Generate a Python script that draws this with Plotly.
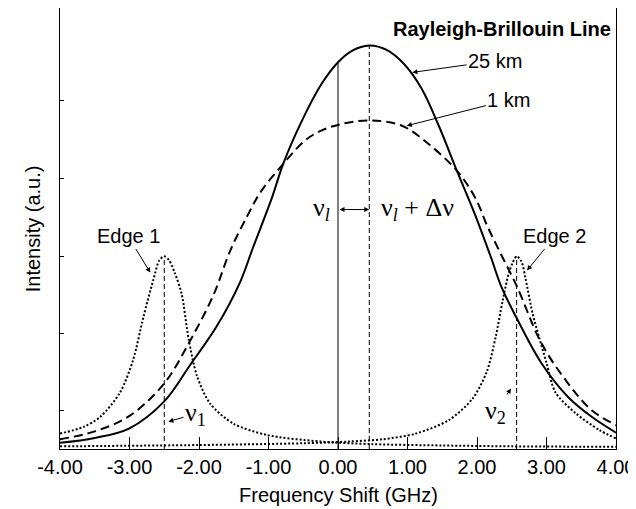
import plotly.graph_objects as go

# Frequency shift (GHz) vs intensity (a.u.)
freq_25km = [-4.00, -3.50, -3.00, -2.50, -2.13, -1.75, -1.41, -1.22, -0.95, -0.79, -0.52, -0.24,
             0.00, 0.20, 0.45, 0.70, 0.95, 1.20, 1.45, 1.71, 1.97, 2.20, 2.35, 2.57, 2.93, 3.31, 3.65, 4.00]
int_25km = [0.014, 0.025, 0.047, 0.108, 0.190, 0.277, 0.378, 0.458, 0.570, 0.646, 0.744, 0.827,
            0.877, 0.903, 0.915, 0.905, 0.873, 0.818, 0.733, 0.631, 0.532, 0.435, 0.368, 0.297, 0.194, 0.118, 0.073, 0.037]

freq_1km = [-4.00, -3.50, -3.00, -2.50, -2.13, -1.79, -1.55, -1.30, -1.10, -0.79, -0.48, -0.24,
            0.05, 0.45, 0.92, 1.30, 1.71, 1.97, 2.15, 2.35, 2.57, 2.93, 3.31, 3.65, 4.00]
int_1km = [0.022, 0.040, 0.075, 0.149, 0.245, 0.350, 0.450, 0.530, 0.586, 0.646, 0.699, 0.722,
           0.737, 0.745, 0.733, 0.692, 0.631, 0.571, 0.505, 0.440, 0.370, 0.239, 0.149, 0.088, 0.054]

freq_edge1 = [-4.00, -3.66, -3.42, -3.14, -2.95, -2.80, -2.66, -2.57, -2.50, -2.43, -2.35, -2.25,
              -2.15, -2.03, -1.84, -1.51, -1.03, -0.26, 0.50, 1.50, 2.50, 4.00]
int_edge1 = [0.035, 0.050, 0.073, 0.127, 0.201, 0.299, 0.382, 0.428, 0.437, 0.428, 0.400, 0.352,
             0.250, 0.166, 0.103, 0.058, 0.032, 0.017, 0.011, 0.008, 0.006, 0.005]

freq_edge2 = [-4.00, -2.00, -0.50, 0.16, 0.64, 1.12, 1.60, 1.94, 2.14, 2.27, 2.37, 2.47,
              2.57, 2.64, 2.70, 2.80, 2.90, 3.00, 3.13, 3.42, 3.76, 4.00]
int_edge2 = [0.006, 0.009, 0.013, 0.017, 0.022, 0.035, 0.066, 0.115, 0.175, 0.255, 0.337, 0.405,
             0.437, 0.425, 0.385, 0.307, 0.250, 0.195, 0.128, 0.081, 0.043, 0.024]

# marker frequencies and the heights the vertical lines reach
nu_l = 0.0
nu_l_top = 0.877
nu_shift = 0.45
nu_shift_top = 0.915
nu_1 = -2.50
nu_2 = 2.57
edge_top = 0.437

x_ticks = [-4, -3, -2, -1, 0, 1, 2, 3, 4]
x_labels = ['-4.00', '-3.00', '-2.00', '-1.00', '0.00', '1.00', '2.00', '3.00', '4.00']
y_ticks = [0.088, 0.262, 0.437, 0.613, 0.79]

fig = go.Figure()

# vertical marker lines
fig.add_trace(go.Scatter(x=[nu_l, nu_l], y=[0, nu_l_top], mode='lines',
                         line=dict(color='black', width=1)))
fig.add_trace(go.Scatter(x=[nu_shift, nu_shift], y=[0, nu_shift_top], mode='lines',
                         line=dict(color='black', width=1, dash='5px,3px')))
fig.add_trace(go.Scatter(x=[nu_1, nu_1], y=[0, edge_top], mode='lines',
                         line=dict(color='black', width=1, dash='5px,3px')))
fig.add_trace(go.Scatter(x=[nu_2, nu_2], y=[0, edge_top], mode='lines',
                         line=dict(color='black', width=1, dash='5px,3px')))

# edge filters (dotted)
fig.add_trace(go.Scatter(x=freq_edge1, y=int_edge1, mode='lines', name='Edge 1',
                         line=dict(color='black', width=2, dash='2px,2px', shape='spline', smoothing=0.8)))
fig.add_trace(go.Scatter(x=freq_edge2, y=int_edge2, mode='lines', name='Edge 2',
                         line=dict(color='black', width=2, dash='2px,2px', shape='spline', smoothing=0.8)))

# Rayleigh-Brillouin lines
fig.add_trace(go.Scatter(x=freq_1km, y=int_1km, mode='lines', name='1 km',
                         line=dict(color='black', width=2, dash='9px,5px', shape='spline')))
fig.add_trace(go.Scatter(x=freq_25km, y=int_25km, mode='lines', name='25 km',
                         line=dict(color='black', width=2, shape='spline')))

arrow = dict(showarrow=True, arrowhead=2, arrowsize=1, arrowwidth=1, arrowcolor='black',
             axref='x', ayref='y')
serif = dict(family='Liberation Serif, Times New Roman, serif', size=26, color='black')

annotations = [
    dict(x=3.95, y=0.952, text='<b>Rayleigh-Brillouin Line</b>', showarrow=False,
         xanchor='right', font=dict(size=20)),
    dict(x=1.07, y=0.854, ax=2.26, ay=0.88, text='25 km', **arrow),
    dict(x=0.99, y=0.733, ax=2.46, ay=0.792, text='1 km', **arrow),
    dict(x=-2.70, y=0.40, ax=-3.02, ay=0.482, text='Edge 1', **arrow),
    dict(x=2.72, y=0.405, ax=3.12, ay=0.482, text='Edge 2', **arrow),
    dict(x=-2.44, y=0.062, ax=-2.05, ay=0.08, text='ν<sub>1</sub>', font=serif, **arrow),
    dict(x=2.49, y=0.137, ax=2.26, ay=0.084, text='ν<sub>2</sub>', font=serif, **arrow),
    # double arrow between the two lines
    dict(x=nu_shift, y=0.543, ax=nu_l, ay=0.543, text='', arrowside='end+start',
         showarrow=True, arrowhead=2, arrowsize=1, arrowwidth=1, arrowcolor='black',
         axref='x', ayref='y', standoff=0, startstandoff=0),
    dict(x=-0.24, y=0.545, text='ν<sub><i>l</i></sub>', showarrow=False, font=serif),
    dict(x=0.59, y=0.545, text='ν<sub><i>l</i></sub> + Δν', showarrow=False,
         xanchor='left', font=serif),
    # axis titles
    dict(xref='paper', yref='paper', x=0.5, y=-0.104, text='Frequency Shift (GHz)',
         showarrow=False, yanchor='middle'),
    dict(xref='paper', yref='paper', x=-0.049, y=0.5, text='Intensity (a.u.)',
         showarrow=False, textangle=-90, xanchor='center'),
]

# the page body adds an 8px margin, so the figure is a bit smaller than the window
fig.update_layout(
    width=628, height=501,
    margin=dict(l=52, r=20, t=0, b=60),
    paper_bgcolor='white', plot_bgcolor='white',
    font=dict(family='Liberation Sans, Arial, sans-serif', size=20, color='black'),
    showlegend=False,
    annotations=annotations,
    xaxis=dict(range=[-4, 4], tickvals=x_ticks, ticktext=x_labels,
               ticks='inside', ticklen=12, tickcolor='black', ticklabelstandoff=0,
               showline=True, linecolor='black', linewidth=1, mirror=True,
               showgrid=False, zeroline=False, automargin=False),
    yaxis=dict(range=[0, 1], tickvals=y_ticks, showticklabels=False,
               ticks='inside', ticklen=4, tickcolor='black',
               showline=True, linecolor='black', linewidth=1, mirror=True,
               showgrid=False, zeroline=False, automargin=False),
)

fig.write_html("out.html")
